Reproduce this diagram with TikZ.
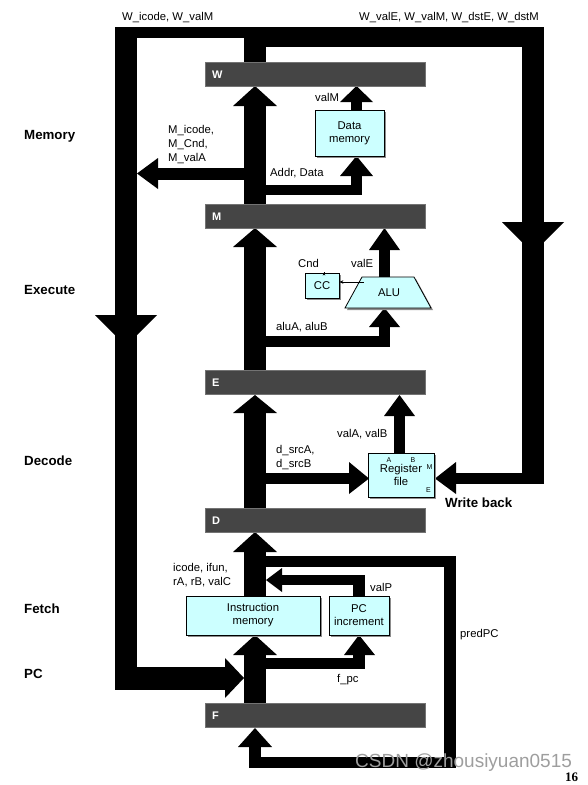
\documentclass[tikz,border=0pt]{standalone}
\usepackage{fontspec}
\setmainfont{Liberation Sans}
\newfontfamily\serifbf{Liberation Serif}
\usetikzlibrary{shadows,calc,arrows.meta}
\definecolor{boxfill}{HTML}{CCFFFF}
\definecolor{regfill}{HTML}{454545}
\begin{document}
\begin{tikzpicture}[x=1pt,y=-1pt,
  bus/.style={fill=black},
  unit/.style={draw=black, line width=0.8pt, fill=boxfill, inner sep=0pt, align=center,
     font=\fontsize{11.3}{13}\selectfont,
     drop shadow={shadow xshift=2pt, shadow yshift=-2pt, fill=black!45, opacity=1}},
  reg/.style={draw=black!55, line width=0.6pt, fill=regfill, inner sep=0pt, anchor=north west,
     minimum width=220pt, minimum height=24pt},
  reglabel/.style={text=white, font=\fontsize{11}{13}\selectfont\bfseries, anchor=west, inner sep=0pt},
  lbl/.style={font=\fontsize{11.3}{14}\selectfont, anchor=west, inner sep=0pt, align=left},
  stage/.style={font=\fontsize{13.3}{15}\selectfont\bfseries, anchor=west, inner sep=0pt},
  tiny/.style={font=\fontsize{7}{8}\selectfont, inner sep=0pt},
  smallarrow/.style={line width=0.6pt, -{Stealth[length=4pt,width=3.5pt]}}
]
\useasboundingbox (0,0) rectangle (587,785);

% ---------- big buses ----------
% outer left loop and top bus
\fill[bus] (115,27) rectangle (137,690);
\fill[bus] (115,27) rectangle (266,38);
\fill[bus] (244,27) rectangle (544,47);
\fill[bus] (522,27) rectangle (544,484);
\fill[bus] (244,38) rectangle (266,62);
% left loop down arrow head
\fill[bus] (95,315) -- (157,315) -- (126,346) -- cycle;
% right down arrow head
\fill[bus] (502,222) -- (564,222) -- (533,253) -- cycle;

% M -> W
\fill[bus] (244,104) rectangle (266,204);
\fill[bus] (233,106) -- (277,106) -- (255,86) -- cycle;
% M_icode etc to left
\fill[bus] (156,168) rectangle (244,180);
\fill[bus] (158,158) -- (158,189) -- (137,173.5) -- cycle;
% Addr, Data
\fill[bus] (266,185) rectangle (362,195);
\fill[bus] (351,174) rectangle (362,195);
\fill[bus] (340,176) -- (373,176) -- (356.5,156) -- cycle;
% valM
\fill[bus] (351,100) rectangle (362,110);
\fill[bus] (340,102) -- (373,102) -- (356.5,86) -- cycle;

% E -> M
\fill[bus] (244,245) rectangle (266,370);
\fill[bus] (233,247) -- (277,247) -- (255,228) -- cycle;
% aluA, aluB
\fill[bus] (266,336) rectangle (390,347);
\fill[bus] (379,325) rectangle (390,347);
\fill[bus] (369,327) -- (400,327) -- (384.5,308) -- cycle;
% valE
\fill[bus] (379,248) rectangle (390,280);
\fill[bus] (369,250) -- (400,250) -- (384.5,228) -- cycle;

% D -> E
\fill[bus] (244,411) rectangle (266,508);
\fill[bus] (233,413) -- (277,413) -- (255,395) -- cycle;
% valA, valB
\fill[bus] (394,414) rectangle (405,453);
\fill[bus] (384,416) -- (415,416) -- (399.5,395) -- cycle;
% d_srcA, d_srcB
\fill[bus] (266,473) rectangle (351,484);
\fill[bus] (349,462) -- (349,494) -- (369,478.5) -- cycle;
% write back
\fill[bus] (454,473) rectangle (544,484);
\fill[bus] (456,462) -- (456,494) -- (435,478.5) -- cycle;

% Instruction memory -> D
\fill[bus] (244,550) rectangle (266,596);
\fill[bus] (233,552) -- (277,552) -- (255,532) -- cycle;
% predPC loop
\fill[bus] (266,556) rectangle (456,567);
\fill[bus] (444,556) rectangle (456,768);
\fill[bus] (249,757) rectangle (456,768);
\fill[bus] (249,745) rectangle (261,768);
\fill[bus] (238,747) -- (272,747) -- (255,728) -- cycle;
% valP
\fill[bus] (353,575) rectangle (365,596);
\fill[bus] (280,575) rectangle (365,585);
\fill[bus] (282,568) -- (282,592) -- (266,580) -- cycle;

% F -> instruction memory
\fill[bus] (244,653) rectangle (266,703);
\fill[bus] (233,655) -- (277,655) -- (255,635) -- cycle;
% f_pc
\fill[bus] (266,658) rectangle (365,669);
\fill[bus] (353,653) rectangle (365,669);
\fill[bus] (344,655) -- (375,655) -- (359,635) -- cycle;
% left loop into PC selection
\fill[bus] (115,667) rectangle (227,690);
\fill[bus] (225,658) -- (225,698) -- (244,678) -- cycle;

% ---------- pipeline registers ----------
\node[reg] (W) at (205,62) {};
\node[reg] (M) at (205,204) {};
\node[reg] (E) at (205,370) {};
\node[reg] (D) at (205,508) {};
\node[reg] (F) at (205,703) {};
\foreach \r in {W,M,E,D,F}
  \node[reglabel] at ($(\r.west)+(7,0)$) {\r};

% ---------- units ----------
\node[unit, minimum width=69pt, minimum height=46pt] (dmem) at (349.5,133) {Data\\memory};
\node[unit, minimum width=34pt, minimum height=25pt] (cc) at (322,285.5) {CC};
\path[draw=black, line width=0.8pt, fill=boxfill,
      drop shadow={shadow xshift=2pt, shadow yshift=-2pt, fill=black!45, opacity=1}]
  (362,277) coordinate (alutl) -- (414,277) -- (431,308) -- (345,308) -- cycle;
\node[font=\fontsize{11.3}{13}\selectfont, inner sep=0pt] (alu) at (389,293) {ALU};
\node[unit, minimum width=66pt, minimum height=44pt] (rf) at (401,475) {Register\\file};
\node[unit, minimum width=134pt, minimum height=39pt] (imem) at (253,615.5) {Instruction\\memory};
\node[unit, minimum width=60pt, minimum height=39pt] (pcinc) at (359,615.5) {PC\\increment};

% register file port letters
\node[tiny] at (389,460) {A};
\node[tiny] at (413,460) {B};
\node[tiny] at (429.5,467) {M};
\node[tiny] at (428.5,490) {E};

% CC connections
\draw[smallarrow] ($(alutl)+(1.5,5)$) -- ($(cc.east)+(0,-3.5)$);
\draw[dotted, line width=0.7pt, -{Stealth[length=3pt,width=2.5pt]}] ($(cc.north)+(2,0)$) -- ($(cc.north)+(2,0)$ |- M.south);

% ---------- labels ----------
\node[lbl] at (122,18) {W\_icode, W\_valM};
\node[lbl, anchor=east] at (539,18) {W\_valE, W\_valM, W\_dstE, W\_dstM};
\node[lbl] at (315,97) {valM};
\node[lbl] at (168,145) {M\_icode,\\M\_Cnd,\\M\_valA};
\node[lbl] at (270,173) {Addr, Data};
\node[lbl] at (298,263) {Cnd};
\node[lbl] at (351,263) {valE};
\node[lbl] at (276,327) {aluA, aluB};
\node[lbl] at (337,434) {valA, valB};
\node[lbl] at (276,458) {d\_srcA,\\d\_srcB};
\node[lbl] at (173,575) {icode, ifun,\\rA, rB, valC};
\node[lbl] at (370,587) {valP};
\node[lbl] at (460,635) {predPC};
\node[lbl] at (337,680) {f\_pc};

\node[stage] at (445,503) {Write back};
\node[stage] at (24,136) {Memory};
\node[stage] at (24,290) {Execute};
\node[stage] at (24,461) {Decode};
\node[stage] at (24,609) {Fetch};
\node[stage] at (24,674) {PC};

% page artifacts
\node[anchor=west, inner sep=0pt, text=black!38, font=\fontsize{19}{22}\selectfont] at (355,763) {CSDN @zhousiyuan0515};
\node[anchor=west, inner sep=0pt, font=\serifbf\bfseries\fontsize{13}{15}\selectfont] at (565,777) {16};
\end{tikzpicture}
\end{document}
